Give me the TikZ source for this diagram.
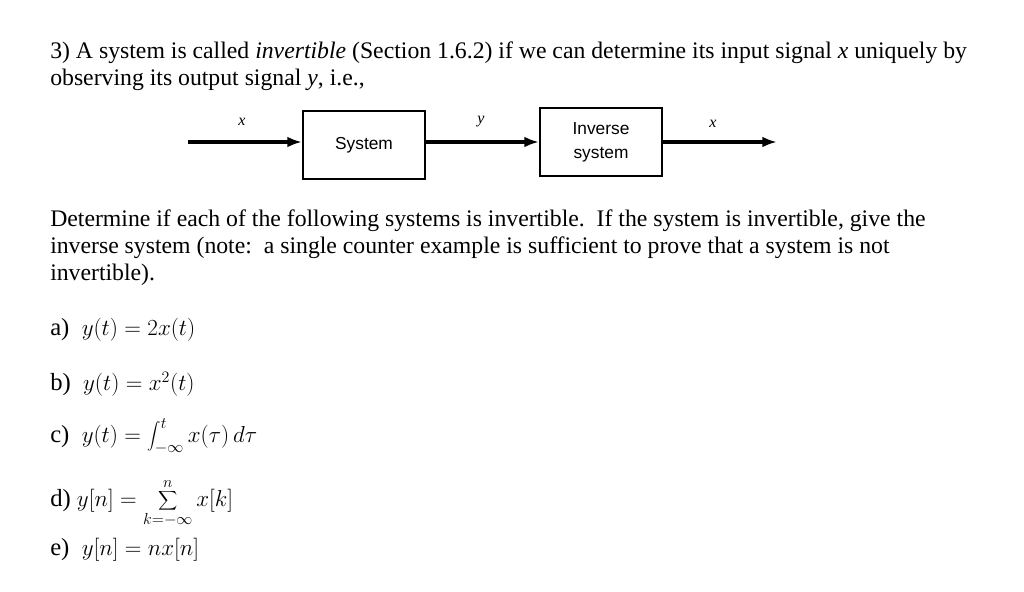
\documentclass[tikz,border=0pt]{standalone}
\usepackage{fontspec}
\setmainfont{Liberation Serif}
\newfontfamily\lsans{Liberation Sans}
\usetikzlibrary{arrows.meta}
\begin{document}
\begin{tikzpicture}[x=0.75pt,y=-0.75pt,
  txt/.style={anchor=west,inner sep=0pt,font=\fontsize{17.8}{20}\selectfont},
  eq/.style={anchor=west,inner sep=0pt,font=\fontsize{18.5}{20}\selectfont},
  blk/.style={draw,line width=1.5pt,minimum width=91.5pt,minimum height=51pt,align=center,font=\lsans\fontsize{13}{16}\selectfont},
  sig/.style={line width=3.2pt,-{Latex[length=11pt,width=8pt]}},
  lab/.style={font=\fontsize{12}{14}\selectfont\itshape}]
\useasboundingbox (0,0) rectangle (1024,592);
\node[txt] (l1) at (50,53) {3) A system is called \textit{invertible} (Section 1.6.2) if we can determine its input signal \textit{x} uniquely by};
\node[txt] (l2) at (50,80) {observing its output signal \textit{y}, i.e.,};
\coordinate (in) at (188,142);
\node[blk] (sys) at (364,145) {System};
\node[blk] (inv) at (601,142) {Inverse\\[2pt]system};
\coordinate (out) at (777,142);
\draw[sig] (in) -- (sys.west|-in);
\draw[sig] (sys.east|-in) -- (inv.west|-in);
\draw[sig] (inv.east|-in) -- (out);
\node[lab] (lx1) at (242,122) {x};
\node[lab] (ly) at (481,122) {y};
\node[lab] (lx2) at (713,124) {x};
\node[txt] (p1) at (50,221) {Determine if each of the following systems is invertible.\ \ If the system is invertible, give the};
\node[txt] (p2) at (50,248) {inverse system (note:\ \ a single counter example is sufficient to prove that a system is not};
\node[txt] (p3) at (50,275) {invertible).};
\node[eq] (a) at (50,330) {a)\ \ $y(t)=2x(t)$};
\node[eq] (b) at (50,384) {b)\ \ $y(t)=x^2(t)$};
\node[eq] (c) at (50,436) {c)\ \ $y(t)=\displaystyle\int_{-\infty}^{t} x(\tau)\,d\tau$};
\node[eq] (d) at (50,503) {d)\ $y[n]=\displaystyle\sum_{k=-\infty}^{n} x[k]$};
\node[eq] (e) at (50,550) {e)\ \ $y[n]=nx[n]$};
\end{tikzpicture}
\end{document}
